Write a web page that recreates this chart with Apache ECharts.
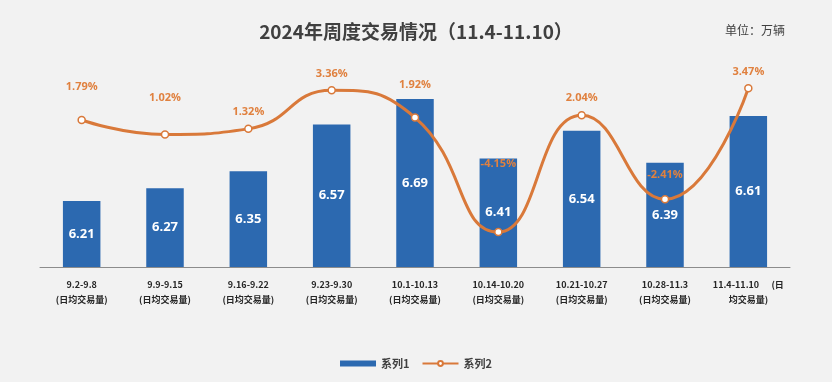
<!DOCTYPE html>
<html><head><meta charset="utf-8">
<script src="https://cdn.jsdelivr.net/npm/echarts@6/dist/echarts.min.js"></script>
<style>html,body{margin:0;padding:0;background:#f2f2f2}#c{width:832px;height:382px}</style>
</head><body><div id="c"></div>
<script>
const categories = ['9.2-9.8\n(日均交易量)','9.9-9.15\n(日均交易量)','9.16-9.22\n(日均交易量)','9.23-9.30\n(日均交易量)','10.1-10.13\n(日均交易量)','10.14-10.20\n(日均交易量)','10.21-10.27\n(日均交易量)','10.28-11.3\n(日均交易量)','11.4-11.10      (日\n均交易量)'];
const series1 = [6.21, 6.27, 6.35, 6.57, 6.69, 6.41, 6.54, 6.39, 6.61];
const series2 = [1.79, 1.02, 1.32, 3.36, 1.92, -4.15, 2.04, -2.41, 3.47];
// label lift (layout only) for the percentage labels
const labelLift = [23, 27, 7, 7, 23, 58, 8, 15, 7];

const chart = echarts.init(document.getElementById('c'));
const font = '"Noto Sans CJK SC", "Open Sans", sans-serif';
chart.setOption({
  backgroundColor: '#f2f2f2',
  animation: false,
  title: [{
    text: '2024年周度交易情况（11.4-11.10）', left: 'center', top: 17,
    textStyle: {fontFamily: font, fontSize: 19, fontWeight: 'bold', color: '#404040'}
  }, {
    text: '单位：万辆', left: 720, top: 19,
    textStyle: {fontFamily: font, fontSize: 12, fontWeight: 'normal', color: '#404040'}
  }],
  legend: {
    bottom: 8, left: 'center', itemWidth: 36, itemHeight: 6, itemGap: 12,
    textStyle: {fontFamily: font, fontSize: 11, fontWeight: 'bold', color: '#404040'},
    data: [{name: '系列1', icon: 'rect'}, {name: '系列2'}]
  },
  grid: {left: 40, right: 42, top: 33, bottom: 115, containLabel: false},
  xAxis: {
    type: 'category', data: categories,
    axisLine: {onZero: false, lineStyle: {color: '#8c8c8c', width: 1}},
    axisTick: {show: false},
    axisLabel: {interval: 0, fontFamily: font, fontSize: 9, fontWeight: 'bold', color: '#262626', lineHeight: 15, margin: 10}
  },
  yAxis: [
    {type: 'value', min: 5.9, max: 7.0, show: false, splitLine: {show: false}},
    {type: 'value', min: -6, max: 6.4, show: false, splitLine: {show: false}}
  ],
  series: [{
    name: '系列1', type: 'bar', data: series1, barWidth: '45%',
    itemStyle: {color: '#2c69b0'},
    label: {show: true, position: 'inside', color: '#ffffff', fontFamily: '"Open Sans", sans-serif', fontWeight: 'bold', fontSize: 13}
  }, {
    name: '系列2', type: 'line', yAxisIndex: 1, smooth: 0.5,
    data: series2.map((v, i) => ({value: v, label: {distance: labelLift[i]}})),
    lineStyle: {color: '#d9793a', width: 3},
    itemStyle: {color: '#ffffff', borderColor: '#d9793a', borderWidth: 1.5},
    symbol: 'circle', symbolSize: 7,
    label: {show: true, position: 'top', formatter: p => p.value.toFixed(2) + '%',
      color: '#e0813f', fontFamily: '"Open Sans", sans-serif', fontWeight: 'bold', fontSize: 11}
  }]
});
</script></body></html>
